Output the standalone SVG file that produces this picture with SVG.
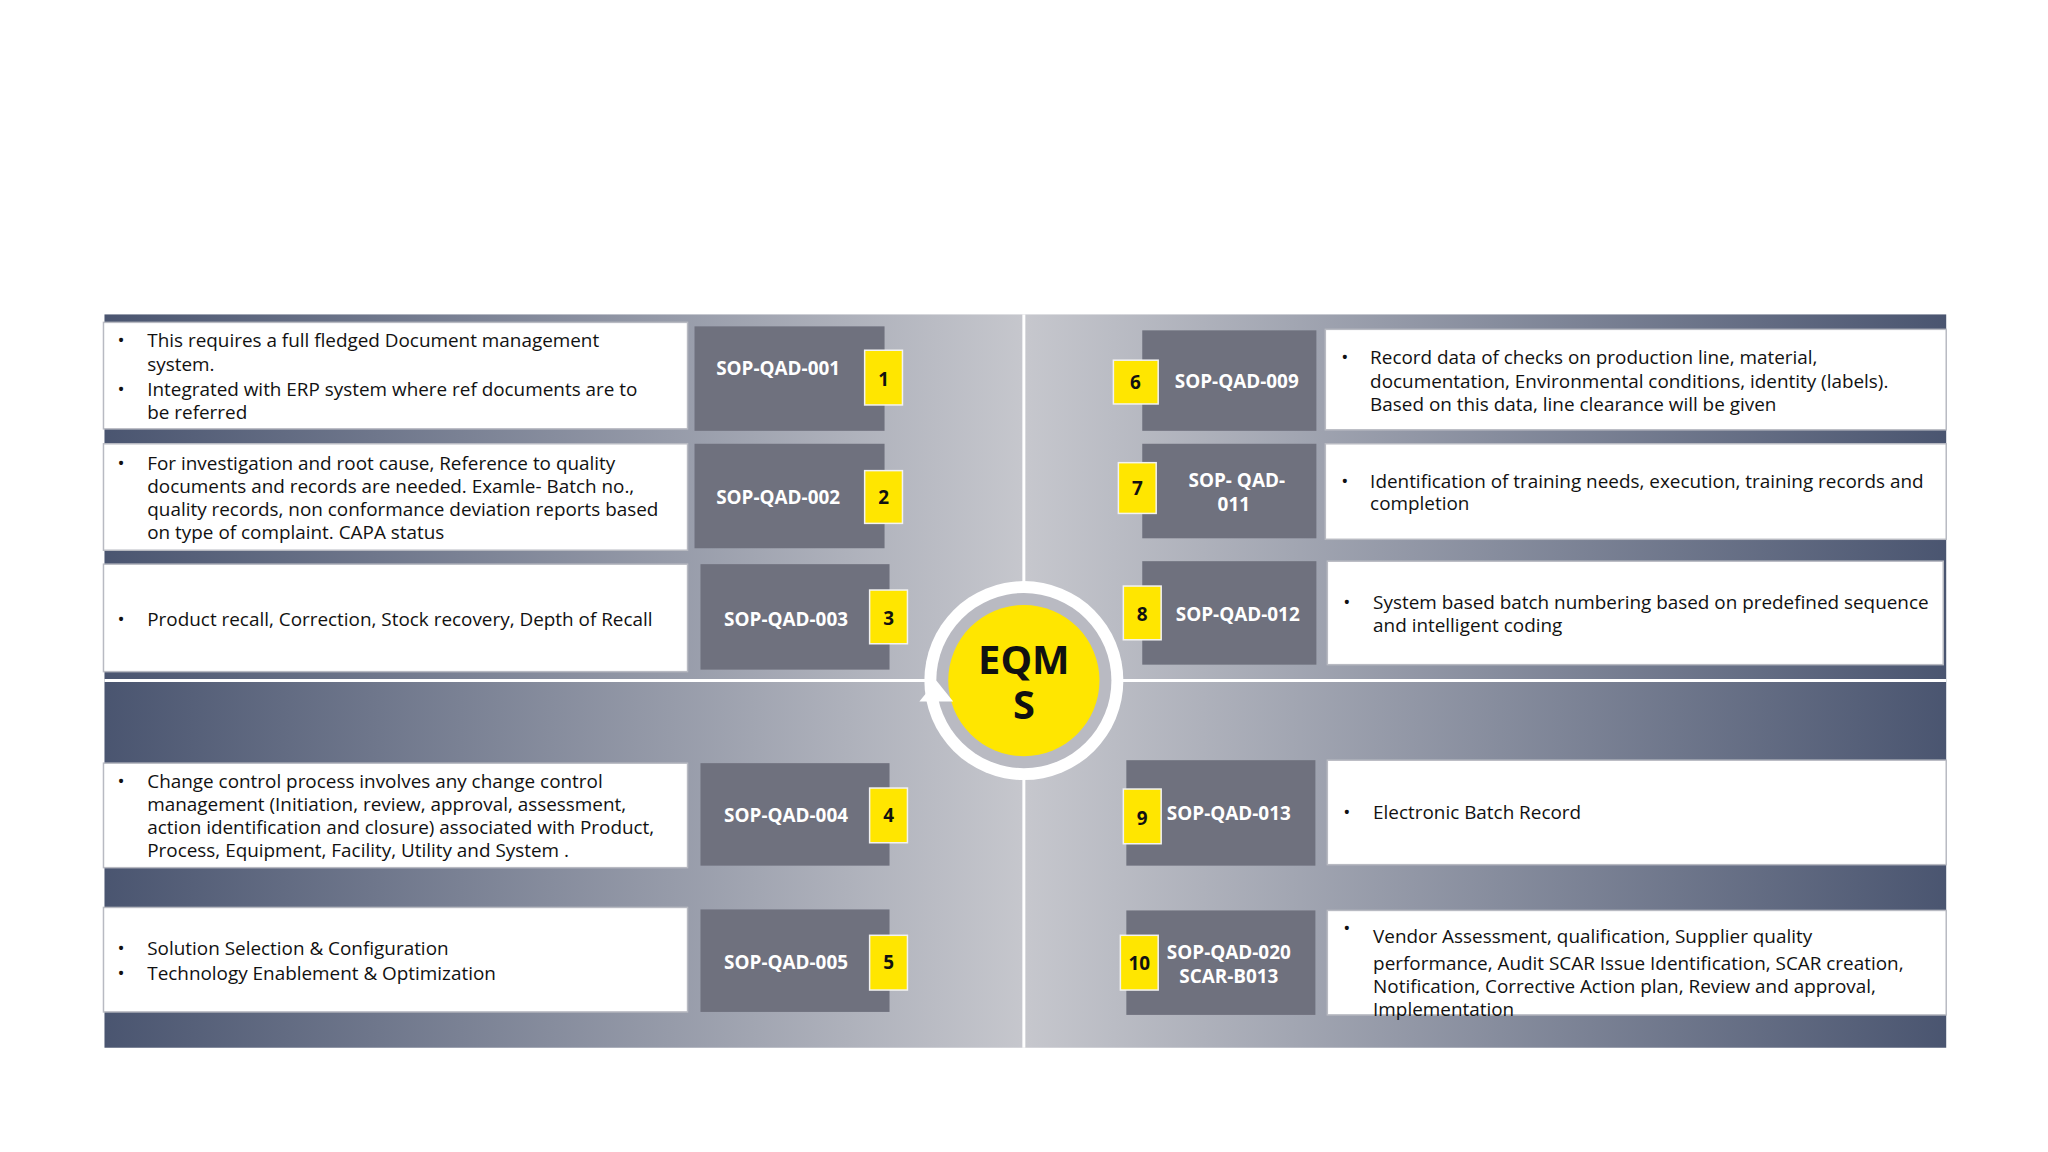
<svg xmlns="http://www.w3.org/2000/svg" width="2048" height="1152" viewBox="0 0 2048 1152">
<defs>
<linearGradient id="bg" x1="105" y1="0" x2="1956" y2="0" gradientUnits="userSpaceOnUse">
<stop offset="0" stop-color="#4a5570"/><stop offset="0.5" stop-color="#c6c7cd"/><stop offset="1" stop-color="#4a5570"/>
</linearGradient>
<style>
.wb{fill:#fff;stroke:#b8bac2;stroke-width:1.5}
.gb{fill:#6f717e}
.yb{fill:#ffe600;stroke:#f2f2f2;stroke-width:1.5}
.t{font-family:"Open Sans","Noto Sans",sans-serif;font-size:19px;fill:#111}
.s{font-family:"Open Sans","Noto Sans",sans-serif;font-size:19px;font-weight:bold;fill:#fff;text-anchor:middle}
.n{font-family:"Open Sans","Noto Sans",sans-serif;font-size:19px;font-weight:bold;fill:#111;text-anchor:middle}
</style>
</defs>
<rect width="2048" height="1152" fill="#fff"/>
<g transform="scale(0.995)">
<rect x="105" y="316" width="1851" height="737" fill="url(#bg)"/>
<line x1="1029" y1="316" x2="1029" y2="1053" stroke="#fff" stroke-width="3"/>
<line x1="105" y1="684" x2="1956" y2="684" stroke="#fff" stroke-width="3"/>

<g id="center">
<circle cx="1029" cy="684" r="100" fill="#fff"/>
<circle cx="1029" cy="684" r="88" fill="#b9bac2"/>
<circle cx="1029" cy="684" r="76" fill="#ffe600"/>
<polygon points="924,705 958,705 941,684" fill="#fff"/>
<text x="1029" y="677" text-anchor="middle" font-family="'Open Sans','Noto Sans',sans-serif" font-size="40" font-weight="bold" fill="#111">EQM</text>
<text x="1029" y="723" text-anchor="middle" font-family="'Open Sans','Noto Sans',sans-serif" font-size="40" font-weight="bold" fill="#111">S</text>
</g>

<g id="n1">
<rect class="wb" x="104" y="324" width="587" height="107"/>
<text class="t" x="118" y="349">•</text>
<text class="t" x="148" y="349">This requires a full fledged Document management</text>
<text class="t" x="148" y="373">system.</text>
<text class="t" x="118" y="398">•</text>
<text class="t" x="148" y="398">Integrated with ERP system where ref documents are to</text>
<text class="t" x="148" y="421">be referred</text>
<rect class="gb" x="698" y="328" width="191" height="105"/>
<text class="s" x="782" y="377">SOP-QAD-001</text>
<rect class="yb" x="869" y="352" width="38" height="55"/>
<text class="n" x="888" y="388">1</text>
</g>
<g id="n2">
<rect class="wb" x="104" y="446" width="587" height="107"/>
<text class="t" x="118" y="472">•</text>
<text class="t" x="148" y="472">For investigation and root cause, Reference to quality</text>
<text class="t" x="148" y="495">documents and records are needed. Examle- Batch no.,</text>
<text class="t" x="148" y="519">quality records, non conformance deviation reports based</text>
<text class="t" x="148" y="542">on type of complaint. CAPA status</text>
<rect class="gb" x="698" y="446" width="191" height="105"/>
<text class="s" x="782" y="507">SOP-QAD-002</text>
<rect class="yb" x="869" y="473" width="38" height="53"/>
<text class="n" x="888" y="507">2</text>
</g>
<g id="n3">
<rect class="wb" x="104" y="567" width="587" height="108"/>
<text class="t" x="118" y="629">•</text>
<text class="t" x="148" y="629">Product recall, Correction, Stock recovery, Depth of Recall</text>
<rect class="gb" x="704" y="567" width="190" height="106"/>
<text class="s" x="790" y="629">SOP-QAD-003</text>
<rect class="yb" x="874" y="593" width="38" height="54"/>
<text class="n" x="893" y="628">3</text>
</g>
<g id="n4">
<rect class="wb" x="104" y="767" width="587" height="105"/>
<text class="t" x="118" y="792">•</text>
<text class="t" x="148" y="792">Change control process involves any change control</text>
<text class="t" x="148" y="815">management (Initiation, review, approval, assessment,</text>
<text class="t" x="148" y="838">action identification and closure) associated with Product,</text>
<text class="t" x="148" y="861">Process, Equipment, Facility, Utility and System .</text>
<rect class="gb" x="704" y="767" width="190" height="103"/>
<text class="s" x="790" y="826">SOP-QAD-004</text>
<rect class="yb" x="874" y="792" width="38" height="55"/>
<text class="n" x="893" y="826">4</text>
</g>
<g id="n5">
<rect class="wb" x="104" y="912" width="587" height="105"/>
<text class="t" x="118" y="960">•</text>
<text class="t" x="148" y="960">Solution Selection &amp; Configuration</text>
<text class="t" x="118" y="985">•</text>
<text class="t" x="148" y="985">Technology Enablement &amp; Optimization</text>
<rect class="gb" x="704" y="914" width="190" height="103"/>
<text class="s" x="790" y="974">SOP-QAD-005</text>
<rect class="yb" x="874" y="940" width="38" height="55"/>
<text class="n" x="893" y="974">5</text>
</g>

<g id="n6">
<rect class="wb" x="1332" y="331" width="624" height="101"/>
<text class="t" x="1348" y="366">•</text>
<text class="t" x="1377" y="366">Record data of checks on production line, material,</text>
<text class="t" x="1377" y="390">documentation, Environmental conditions, identity (labels).</text>
<text class="t" x="1377" y="413">Based on this data, line clearance will be given</text>
<rect class="gb" x="1148" y="332" width="175" height="101"/>
<text class="s" x="1243" y="390">SOP-QAD-009</text>
<rect class="yb" x="1119" y="362" width="45" height="44"/>
<text class="n" x="1141" y="391">6</text>
</g>
<g id="n7">
<rect class="wb" x="1332" y="446" width="624" height="96"/>
<text class="t" x="1348" y="490">•</text>
<text class="t" x="1377" y="490">Identification of training needs, execution, training records and</text>
<text class="t" x="1377" y="513">completion</text>
<rect class="gb" x="1148" y="446" width="175" height="95"/>
<text class="s" x="1243" y="489">SOP- QAD-</text>
<text class="s" x="1240" y="514">011</text>
<rect class="yb" x="1124" y="465" width="38" height="51"/>
<text class="n" x="1143" y="497">7</text>
</g>
<g id="n8">
<rect class="wb" x="1334" y="564" width="619" height="104"/>
<text class="t" x="1350" y="612">•</text>
<text class="t" x="1380" y="612">System based batch numbering based on predefined sequence</text>
<text class="t" x="1380" y="635">and intelligent coding</text>
<rect class="gb" x="1148" y="564" width="175" height="104"/>
<text class="s" x="1244" y="624">SOP-QAD-012</text>
<rect class="yb" x="1129" y="589" width="38" height="54"/>
<text class="n" x="1148" y="624">8</text>
</g>
<g id="n9">
<rect class="wb" x="1334" y="764" width="622" height="105"/>
<text class="t" x="1350" y="823">•</text>
<text class="t" x="1380" y="823">Electronic Batch Record</text>
<rect class="gb" x="1132" y="764" width="190" height="106"/>
<text class="s" x="1235" y="824">SOP-QAD-013</text>
<rect class="yb" x="1129" y="793" width="38" height="55"/>
<text class="n" x="1148" y="829">9</text>
</g>
<g id="n10">
<rect class="wb" x="1334" y="915" width="622" height="105"/>
<text class="t" x="1350" y="940">•</text>
<text class="t" x="1380" y="948">Vendor Assessment, qualification,  Supplier quality</text>
<text class="t" x="1380" y="975">performance, Audit SCAR Issue Identification, SCAR creation,</text>
<text class="t" x="1380" y="998">Notification, Corrective Action plan, Review and approval,</text>
<text class="t" x="1380" y="1021">Implementation</text>
<rect class="gb" x="1132" y="915" width="190" height="105"/>
<text class="s" x="1235" y="964">SOP-QAD-020</text>
<text class="s" x="1235" y="988">SCAR-B013</text>
<rect class="yb" x="1126" y="940" width="38" height="55"/>
<text class="n" x="1145" y="975">10</text>
</g>
<g id="connectors"/>
</g>
</svg>
